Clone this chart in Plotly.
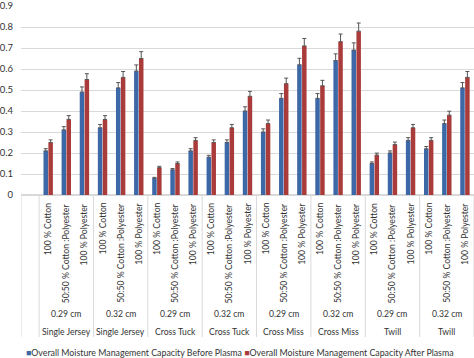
import plotly.graph_objects as go

fabrics = ["100 % Cotton", "50:50 % Cotton :Polyester", "100 % Polyester"]
thickness = ["0.29 cm", "0.32 cm", "0.29 cm", "0.32 cm", "0.29 cm", "0.32 cm", "0.29 cm", "0.32 cm"]
structures = ["Single Jersey", "Single Jersey", "Cross Tuck", "Cross Tuck",
              "Cross Miss", "Cross Miss", "Twill", "Twill"]

before_plasma = [0.21, 0.31, 0.49, 0.32, 0.51, 0.59,
                 0.08, 0.12, 0.21, 0.18, 0.25, 0.40,
                 0.30, 0.46, 0.62, 0.46, 0.64, 0.69,
                 0.15, 0.20, 0.26, 0.22, 0.34, 0.51]
after_plasma = [0.25, 0.36, 0.55, 0.36, 0.56, 0.65,
                0.13, 0.15, 0.26, 0.25, 0.32, 0.47,
                0.34, 0.53, 0.71, 0.52, 0.73, 0.78,
                0.19, 0.24, 0.32, 0.26, 0.38, 0.56]
error_percent = 5
y_ticks = [0, 0.1, 0.2, 0.3, 0.4, 0.5, 0.6, 0.7, 0.8, 0.9]

series_names = ["Overall Moisture Management Capacity Before Plasma",
                "Overall Moisture Management Capacity After Plasma"]
colors = ["#3D68A8", "#A93B3A"]

n = len(before_plasma)
xs = list(range(n))

W, H = 474, 358
ML, MR, MT, MB = 21, 0, 6, 163
plot_h = H - MT - MB
FONT = "Lato"
TXT = "#333333"
FS = 8.6

def py(pix):
    return (H - MB - pix) / plot_h

fig = go.Figure()
for vals, name, col in [(before_plasma, series_names[0], colors[0]),
                        (after_plasma, series_names[1], colors[1])]:
    fig.add_trace(go.Bar(
        x=xs, y=vals, name=name, marker=dict(color=col, line=dict(width=0)),
        error_y=dict(type="percent", value=error_percent, valueminus=0, symmetric=False,
                     color="#555555", thickness=1, width=2),
    ))

annotations = []
for i in xs:
    annotations.append(dict(
        x=i, y=py(201), xref="x", yref="paper", text=fabrics[i % 3], textangle=-90,
        showarrow=False, xanchor="center", yanchor="top",
        font=dict(family=FONT, size=FS, color=TXT)))
for g in range(len(thickness)):
    cx = 3 * g + 1
    annotations.append(dict(
        x=cx, y=py(314), xref="x", yref="paper", text=thickness[g], showarrow=False,
        xanchor="center", yanchor="middle", font=dict(family=FONT, size=FS, color=TXT)))
    annotations.append(dict(
        x=cx, y=py(332), xref="x", yref="paper", text=structures[g], showarrow=False,
        xanchor="center", yanchor="middle", font=dict(family=FONT, size=FS, color=TXT)))

legend_text = (f'<span style="color:{colors[0]}">■</span>{series_names[0]} '
               f'<span style="color:{colors[1]}">■</span>{series_names[1]}')
annotations.append(dict(
    x=(24 - ML) / (W - ML - MR), y=py(352), xref="paper", yref="paper", text=legend_text,
    showarrow=False, xanchor="left", yanchor="middle",
    font=dict(family=FONT, size=8.8, color=TXT)))

shapes = []
for b in [-1.5] + [3 * g - 0.5 for g in range(len(thickness) + 1)]:
    shapes.append(dict(type="line", xref="x", yref="paper", x0=b, x1=b,
                       y0=0, y1=py(337), line=dict(color="#D9D9D9", width=1)))

fig.update_layout(
    width=W, height=H, margin=dict(l=ML, r=MR, t=MT, b=MB),
    paper_bgcolor="white", plot_bgcolor="white",
    barmode="group", bargap=0.46, bargroupgap=0.08,
    showlegend=False,
    font=dict(family=FONT, size=FS, color=TXT),
    annotations=annotations, shapes=shapes,
    xaxis=dict(range=[-1.5, n - 0.5], showticklabels=False, showgrid=False,
               zeroline=False, showline=False, ticks=""),
    yaxis=dict(range=[0, 0.9], tickvals=y_ticks, ticktext=[str(t) for t in y_ticks],
               showgrid=True, gridcolor="#D9D9D9", gridwidth=1, zeroline=True,
               zerolinecolor="#D9D9D9", showline=False, ticks="outside", ticklen=5,
               tickcolor="rgba(0,0,0,0)", automargin=False,
               tickfont=dict(family=FONT, size=9.5, color=TXT)),
)

fig.write_html("out.html", config={"displayModeBar": False},
               post_script="document.body.style.margin='0';document.body.style.overflow='hidden';")
